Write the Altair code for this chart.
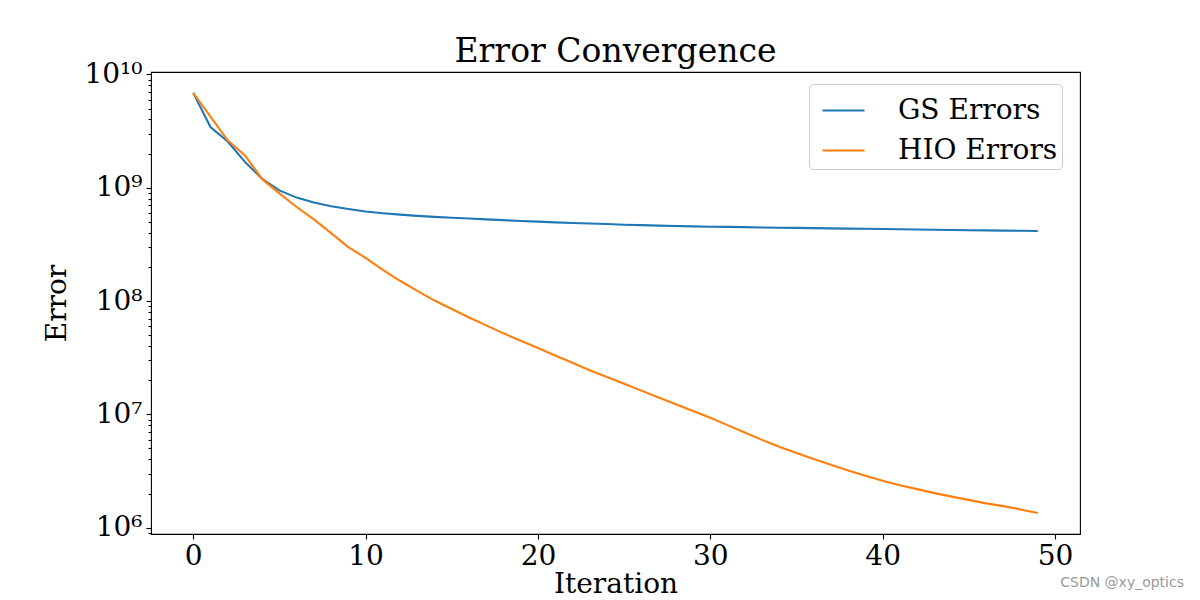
import altair as alt
import pandas as pd

FONT = "DejaVu Serif"

iterations = list(range(50))

gs_errors = [
    6.87e9, 3.43e9, 2.56e9, 1.69e9, 1.20e9, 9.48e8, 8.18e8, 7.40e8, 6.86e8, 6.49e8,
    6.17e8, 5.96e8, 5.79e8, 5.65e8, 5.53e8, 5.43e8, 5.35e8, 5.26e8, 5.18e8, 5.09e8,
    5.02e8, 4.95e8, 4.89e8, 4.83e8, 4.78e8, 4.72e8, 4.68e8, 4.63e8, 4.59e8, 4.56e8,
    4.53e8, 4.51e8, 4.49e8, 4.46e8, 4.44e8, 4.42e8, 4.40e8, 4.38e8, 4.36e8, 4.34e8,
    4.32e8, 4.30e8, 4.28e8, 4.26e8, 4.24e8, 4.22e8, 4.20e8, 4.18e8, 4.17e8, 4.15e8,
]

hio_errors = [
    6.87e9, 4.24e9, 2.62e9, 1.93e9, 1.19e9, 8.91e8, 6.76e8, 5.25e8, 3.98e8, 2.99e8,
    2.40e8, 1.88e8, 1.51e8, 1.23e8, 1.01e8, 8.51e7, 7.16e7, 6.10e7, 5.19e7, 4.47e7,
    3.85e7, 3.31e7, 2.85e7, 2.45e7, 2.14e7, 1.86e7, 1.62e7, 1.41e7, 1.23e7, 1.07e7,
    9.33e6, 8.04e6, 6.92e6, 5.96e6, 5.19e6, 4.57e6, 4.03e6, 3.59e6, 3.20e6, 2.88e6,
    2.60e6, 2.37e6, 2.19e6, 2.02e6, 1.88e6, 1.76e6, 1.64e6, 1.55e6, 1.45e6, 1.35e6,
]

series_names = ["GS Errors", "HIO Errors"]
series_colors = ["#1f77b4", "#ff7f0e"]

x_ticks = [0, 10, 20, 30, 40, 50]
y_major = [1e6, 1e7, 1e8, 1e9, 1e10]
y_major_labels = ["10⁶", "10⁷", "10⁸", "10⁹", "10¹⁰"]
y_minor = [9e5,
           2e6, 3e6, 4e6, 5e6, 6e6, 7e6, 8e6, 9e6,
           2e7, 3e7, 4e7, 5e7, 6e7, 7e7, 8e7, 9e7,
           2e8, 3e8, 4e8, 5e8, 6e8, 7e8, 8e8, 9e8,
           2e9, 3e9, 4e9, 5e9, 6e9, 7e9, 8e9, 9e9]

df = pd.DataFrame({
    "iteration": iterations * 2,
    "error": gs_errors + hio_errors,
    "series": [series_names[0]] * len(gs_errors) + [series_names[1]] * len(hio_errors),
})

label_expr = " : ".join(
    f"datum.value == {v:.0f} ? '{l}'" for v, l in zip(y_major, y_major_labels)
) + " : ''"
major_test = " || ".join(f"datum.value == {v:.0f}" for v in y_major)

lines = alt.Chart(df).mark_line(strokeWidth=2.1, clip=True).encode(
    x=alt.X(
        "iteration:Q",
        scale=alt.Scale(domain=[-2.45, 51.45], nice=False, zero=False),
        axis=alt.Axis(values=x_ticks, format="d", title="Iteration",
                      tickSize=5, labelPadding=3, titlePadding=0),
    ),
    y=alt.Y(
        "error:Q",
        scale=alt.Scale(type="log", domain=[8.8e5, 1.05e10], nice=False),
        axis=alt.Axis(
            values=sorted(y_major + y_minor),
            labelExpr=label_expr,
            title="Error",
            tickSize={"condition": {"test": major_test, "value": 5}, "value": 3},
            labelOverlap=False,
            labelPadding=4,
            titlePadding=12,
        ),
    ),
    color=alt.Color(
        "series:N",
        scale=alt.Scale(domain=series_names, range=series_colors),
        legend=alt.Legend(
            title=None,
            orient="none",
            legendX=658,
            legendY=12,
            symbolType="stroke",
            symbolSize=1764,
            symbolStrokeWidth=2.1,
            symbolOffset=8,
            labelFont=FONT,
            labelFontSize=28,
            labelColor="black",
            labelOffset=32,
            fillColor="white",
            strokeColor="#cccccc",
            cornerRadius=4,
            padding=4,
            rowPadding=3,
        ),
    ),
)

watermark = alt.Chart(pd.DataFrame({"t": ["CSDN @xy_optics"]})).mark_text(
    align="right", baseline="middle", font="DejaVu Sans", fontSize=14,
    color="#999999", clip=False,
).encode(text="t:N", x=alt.value(1033), y=alt.value(511))

chart = alt.layer(lines, watermark).properties(
    width=929,
    height=462,
    title=alt.TitleParams(
        "Error Convergence", font=FONT, fontSize=33, fontWeight="normal",
        color="black", anchor="middle", frame="group", baseline="alphabetic", offset=-35,
    ),
    padding={"left": 143, "top": 64, "right": 112, "bottom": 65},
    autosize="none",
).configure_view(
    stroke="black", strokeWidth=1.1
).configure_axis(
    grid=False, domain=False,
    tickColor="black", tickWidth=1.1,
    labelFont=FONT, labelFontSize=28, labelColor="black",
    titleFont=FONT, titleFontSize=28, titleFontWeight="normal", titleColor="black",
)

chart.save("out.html", embed_options={"renderer": "svg", "actions": False})
